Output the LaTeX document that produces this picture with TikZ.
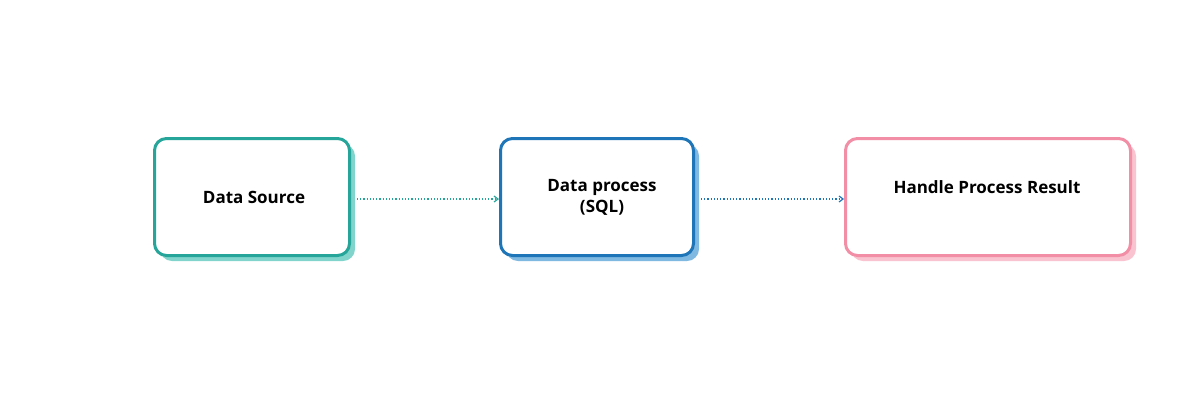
\documentclass[tikz,border=0pt]{standalone}
\usepackage{fontspec}
\setmainfont{Open Sans}
\usetikzlibrary{arrows.meta}
\definecolor{tealc}{HTML}{26A69A}
\definecolor{tealL}{HTML}{80D4CC}
\definecolor{bluec}{HTML}{1E75B8}
\definecolor{blueL}{HTML}{7FB8E0}
\definecolor{pinkc}{HTML}{F28FA6}
\definecolor{pinkL}{HTML}{F9C3CF}
\tikzset{
 boxst/.style={draw=#1, line width=3pt, rounded corners=12pt, fill=white, inner sep=0pt},
 shad/.style={fill=#1, rounded corners=12pt, draw=none},
 lbl/.style={font=\bfseries\fontsize{17pt}{21pt}\selectfont, align=center},
 conn/.style={draw=#1, dotted, line width=1.2pt, -{Straight Barb[length=4pt,width=6pt]}}
}
\begin{document}
\begin{tikzpicture}[x=1pt,y=-1pt]
\useasboundingbox (0,0) rectangle (1200,400);
\fill[shad=tealL] (160,144) rectangle (355,261);
\fill[shad=blueL] (506,144) rectangle (699,261);
\fill[shad=pinkL] (851,144) rectangle (1136,261);
\node[boxst=tealc, minimum width=195pt, minimum height=117pt] (a) at (252,197) {};
\node[boxst=bluec, minimum width=193pt, minimum height=117pt] (b) at (597,197) {};
\node[boxst=pinkc, minimum width=285pt, minimum height=117pt] (c) at (988,197) {};
\node[lbl] (ta) at (254,197) {Data Source};
\node[lbl] (tb) at (602,197) {Data process\\(SQL)};
\node[lbl] (tc) at (987,187) {Handle Process Result};
\draw[conn=tealc] ([yshift=-2pt]a.east) ++(6,0) coordinate (a1) -- ([yshift=-2pt]b.west);
\draw[conn=bluec] ([yshift=-2pt]b.east) ++(6,0) coordinate (b1) -- ([yshift=-2pt]c.west);
\end{tikzpicture}
\end{document}
